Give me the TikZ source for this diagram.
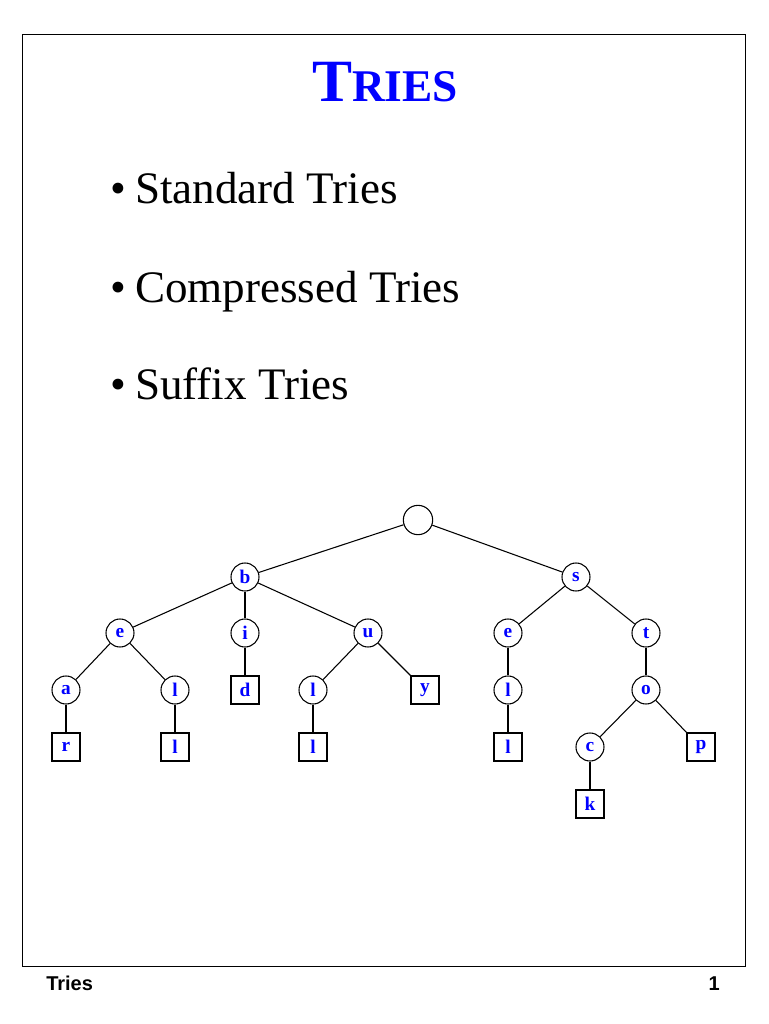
\documentclass[tikz,border=0pt]{standalone}
\usepackage{fontspec}
\setmainfont{Liberation Serif}
\newfontfamily\footfont{Liberation Sans}
\tikzset{
  letter/.style={circle,draw,line width=0.8pt,minimum size=21pt,inner sep=0pt,
    text=blue,font=\fontsize{14.5}{14.5}\selectfont\bfseries},
  leaf/.style={rectangle,draw,line width=0.8pt,minimum size=21pt,inner sep=0pt,
    text=blue,font=\fontsize{14.5}{14.5}\selectfont\bfseries},
  topic/.style={anchor=base west,inner sep=0pt,font=\fontsize{33.8}{36}\selectfont}
}
\begin{document}
\begin{tikzpicture}[x=0.75pt,y=-0.75pt]
      \useasboundingbox (0,0) rectangle (768,1024);
      \draw[line width=0.75pt] (22,35) rectangle (745,966);
      % title and topics
      \node[anchor=base,inner sep=0pt,text=blue] (title) at (385,101)
        {\bfseries\fontsize{45}{50}\selectfont T\fontsize{34}{40}\selectfont RIES};
      \node[topic] (std) at (110,203) {\textbullet\hspace{0.2em}Standard Tries};
      \node[topic] (comp) at (110,302) {\textbullet\hspace{0.2em}Compressed Tries};
      \node[topic] (suf) at (110,399) {\textbullet\hspace{0.2em}Suffix Tries};
      % footer
      \node[anchor=base west,inner sep=0pt,font=\footfont\bfseries\fontsize{15}{16}\selectfont] (foot) at (46,990) {Tries};
      \node[anchor=base east,inner sep=0pt,font=\footfont\bfseries\fontsize{15}{16}\selectfont] (page) at (720,990) {1};
      % the trie
      \draw
        (418,520) node[letter,minimum size=22pt] (root){}
        (245,577) node[letter] (b){b}
        (576,577) node[letter] (s){s}
        (120,633) node[letter] (be){e}
        (245,633) node[letter] (bi){i}
        (368,633) node[letter] (bu){u}
        (508,633) node[letter] (se){e}
        (646,633) node[letter] (st){t}
        (66,690) node[letter] (bea){a}
        (175,690) node[letter] (bel){l}
        (245,690) node[leaf] (bid){d}
        (313,690) node[letter] (bul){l}
        (425,690) node[leaf] (buy){y}
        (508,690) node[letter] (sel){l}
        (646,690) node[letter] (sto){o}
        (66,747) node[leaf] (bear){r}
        (175,747) node[leaf] (bell){l}
        (313,747) node[leaf] (bull){l}
        (508,747) node[leaf] (sell){l}
        (590,747) node[letter] (stoc){c}
        (701,747) node[leaf] (stop){p}
        (590,804) node[leaf] (stock){k};
      \begin{scope}[-,line width=0.8pt]
        \draw (root) to (b);
        \draw (root) to (s);
        \draw (b) to (be);
        \draw (b) to (bi);
        \draw (b) to (bu);
        \draw (be) to (bea);
        \draw (be) to (bel);
        \draw (bi) to (bid);
        \draw (bu) to (bul);
        \draw (bu) to (buy.north west);
        \draw (bea) to (bear);
        \draw (bel) to (bell);
        \draw (bul) to (bull);
        \draw (s) to (se);
        \draw (s) to (st);
        \draw (se) to (sel);
        \draw (sel) to (sell);
        \draw (st) to (sto);
        \draw (sto) to (stoc);
        \draw (sto) to (stop.north west);
        \draw (stoc) to (stock);
      \end{scope}
    \end{tikzpicture}
\end{document}
